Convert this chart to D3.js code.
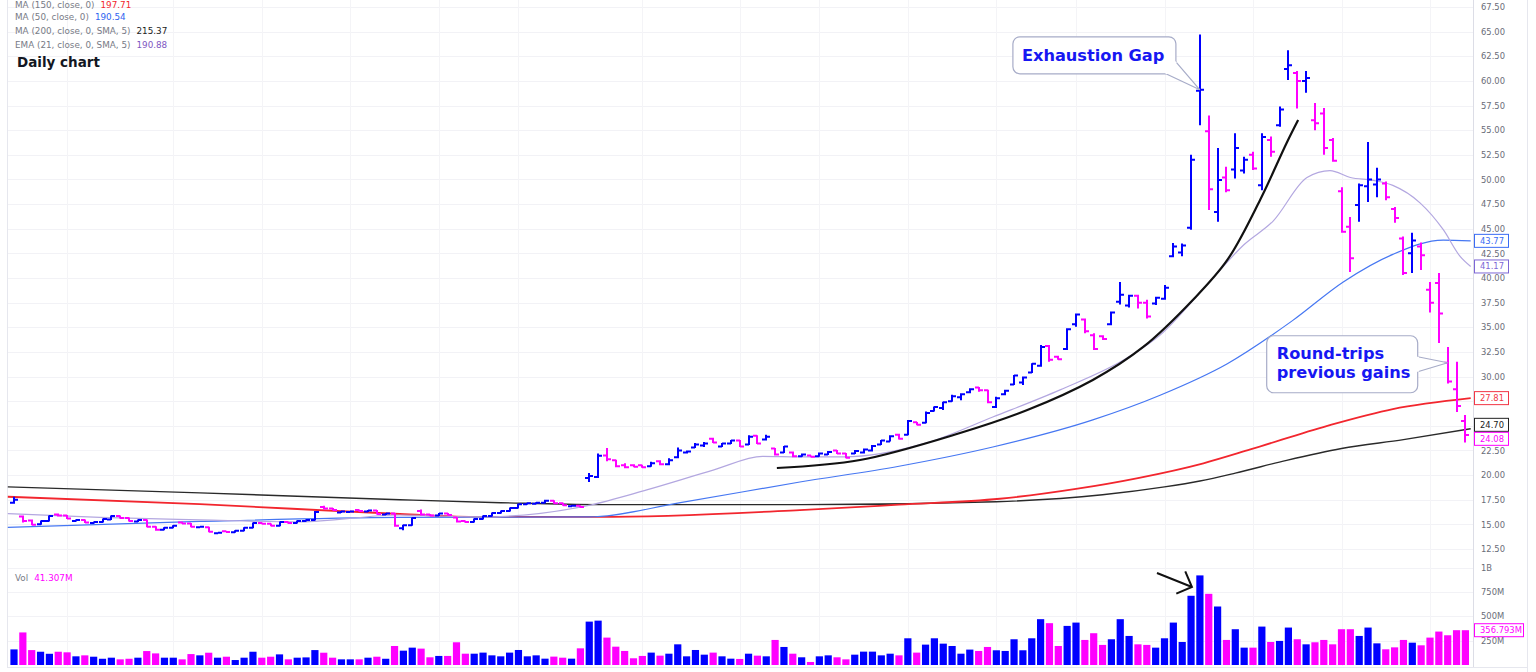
<!DOCTYPE html>
<html>
<head>
<meta charset="utf-8">
<script src="https://cdn.jsdelivr.net/npm/d3@7"></script>
<style>
  html, body { margin: 0; padding: 0; background: #fff; }
  svg { display: block; font-family: "DejaVu Sans", Verdana, sans-serif; }
</style>
</head>
<body>
<svg id="chart" width="1536" height="672"></svg>
<script>
// ---- daily OHLC, one entry per session ----
const opens = [
  17.2,15.8,15.4,15.0,15.35,16.0,15.9,15.35,15.45,15.15,15.25,15.5,15.85,15.65,15.3,15.45,14.75,14.45,14.65,15.2,
  15.1,14.7,14.7,14.1,14.3,14.2,14.35,14.65,15.15,15.05,14.85,15.25,15.15,15.35,15.45,16.75,16.6,16.2,16.25,16.45,
  16.3,16.4,16.0,16.1,14.6,14.9,16.35,16.0,15.9,16.1,15.7,15.35,15.25,15.55,15.85,16.15,16.35,16.65,17.05,17.1,
  17.2,17.4,17.15,16.85,16.9,19.7,19.8,22.0,21.5,21.0,21.0,21.0,20.9,21.4,21.1,21.8,22.3,22.8,23.0,23.7,
  22.9,23.2,23.5,23.1,24.0,23.6,22.7,22.3,22.3,21.9,22.0,21.9,22.1,22.5,22.2,22.2,22.3,22.5,23.1,23.4,
  24.1,24.1,25.35,25.3,26.5,26.8,27.5,27.9,28.4,28.9,28.6,26.9,28.2,29.2,29.4,30.4,31.1,33.1,32.0,32.8,
  35.3,35.8,34.2,34.1,35.3,37.6,37.2,38.2,37.5,37.4,37.9,42.2,42.6,45.1,59.0,54.9,46.7,50.2,51.0,50.9,
  52.5,49.4,54.0,55.5,61.2,60.8,60.0,56.0,56.7,54.0,48.8,45.2,47.4,49.3,49.5,49.6,47.0,44.0,42.5,43.2,
  38.8,39.5,31.4,28.7,25.5
];
const highs = [
  17.8,15.9,15.5,15.4,15.9,16.1,15.95,15.5,15.5,15.3,15.6,15.9,15.9,15.7,15.5,15.5,14.8,14.7,14.9,15.3,
  15.15,14.8,14.75,14.2,14.35,14.4,14.7,15.2,15.2,15.1,15.3,15.3,15.4,15.5,16.35,16.9,16.65,16.35,16.35,16.5,
  16.45,16.45,16.15,16.15,14.95,15.7,16.5,16.05,16.15,16.15,15.75,15.4,15.6,15.9,16.2,16.4,16.7,17.1,17.2,17.25,
  17.5,17.45,17.2,17.0,16.95,20.2,22.2,22.75,21.55,21.2,21.1,21.05,21.35,21.5,21.7,22.8,22.5,23.25,23.35,23.8,
  23.25,23.55,23.55,24.05,24.05,24.1,22.75,22.95,22.4,22.2,22.0,22.3,22.45,22.55,22.25,22.55,22.7,23.05,23.55,24.05,
  24.2,25.6,25.4,26.45,26.95,27.45,28.15,28.3,28.8,28.95,28.65,27.95,28.65,30.15,30.0,31.35,33.2,33.2,32.1,34.9,
  36.4,35.9,34.4,34.2,36.6,39.6,38.3,38.3,37.8,38.1,39.3,43.55,43.5,52.5,64.7,56.5,53.2,51.3,54.7,52.3,
  52.8,54.7,54.35,57.4,63.1,61.0,61.0,57.75,57.25,54.2,49.2,46.2,49.6,53.8,51.2,49.8,47.2,44.2,44.6,43.6,
  39.6,40.5,33.0,31.5,26.1
];
const lows = [
  17.1,15.2,14.9,14.95,15.3,15.8,15.55,15.3,15.15,15.1,15.2,15.45,15.6,15.3,15.25,14.7,14.35,14.4,14.6,15.05,
  14.7,14.65,14.2,14.05,14.2,14.15,14.3,14.6,15.0,14.8,14.8,15.1,15.1,15.3,15.4,16.5,16.4,16.15,16.2,16.3,
  16.25,16.0,15.95,14.75,14.4,14.85,15.9,15.85,15.85,15.9,15.2,15.2,15.2,15.5,15.8,16.1,16.3,16.6,17.0,17.05,
  17.15,17.1,16.9,16.8,16.7,19.3,19.7,21.4,20.8,20.7,20.8,20.75,20.85,21.0,21.0,21.7,22.2,22.75,22.85,23.25,
  22.85,23.15,22.85,23.05,23.15,23.5,22.0,22.25,21.8,21.85,21.8,21.85,22.05,22.15,21.7,22.15,22.2,22.4,23.05,23.4,
  23.6,24.05,25.05,25.25,26.45,26.6,27.45,27.6,28.3,28.45,27.3,26.8,28.1,29.15,29.15,30.35,31.0,31.5,31.7,32.7,
  35.05,34.4,32.7,33.7,35.2,37.3,37.0,36.9,35.9,37.25,37.8,42.1,42.2,44.9,55.5,46.9,45.7,48.7,50.1,50.6,
  50.95,48.9,52.3,55.35,60.1,57.2,58.8,55.0,52.5,51.8,44.6,40.6,45.7,47.7,48.2,47.9,45.6,40.3,40.5,40.8,
  36.5,33.4,29.3,26.4,23.3
];
const closes = [
  17.5,15.35,14.95,15.35,15.85,15.9,15.6,15.45,15.2,15.25,15.55,15.85,15.65,15.35,15.45,14.75,14.45,14.65,14.85,15.1,
  14.75,14.75,14.25,14.15,14.22,14.35,14.65,15.15,15.05,14.85,15.25,15.15,15.35,15.45,16.25,16.6,16.45,16.3,16.3,16.35,
  16.4,16.05,16.1,14.85,14.9,15.65,16.0,15.9,16.1,15.95,15.3,15.25,15.55,15.85,16.15,16.35,16.65,17.05,17.15,17.2,
  17.4,17.15,16.95,16.9,16.75,19.9,21.95,21.6,20.9,20.8,20.85,20.8,21.2,21.1,21.5,22.5,22.4,23.1,23.2,23.3,
  23.2,23.5,22.9,23.9,23.2,23.9,22.1,22.9,21.9,22.1,21.85,22.2,22.35,22.2,21.75,22.45,22.6,22.95,23.5,23.95,
  23.7,25.5,25.1,26.3,26.9,27.4,28.0,28.2,28.7,28.6,27.4,27.8,28.55,30.1,29.9,31.3,33.0,31.7,31.75,34.8,
  36.3,34.6,32.8,33.8,36.5,38.3,38.2,37.5,36.1,38.0,39.0,43.2,43.3,52.0,59.1,49.0,49.95,48.9,53.2,52.0,
  51.1,54.3,52.8,57.1,61.6,60.0,60.3,55.7,53.2,51.9,44.7,42.0,49.4,50.0,50.0,48.2,46.1,40.5,43.8,42.3,
  37.5,36.4,29.5,27.0,24.08
];
// volume, millions
const volumes = [
  160,334,153,136,115,136,130,89,99,85,64,75,58,64,75,143,119,75,75,58,
  112,99,126,75,85,51,75,136,75,85,109,58,75,78,153,126,75,58,58,58,
  75,85,64,195,147,178,168,79,93,93,233,116,116,127,99,89,127,154,89,99,
  65,86,75,65,171,445,455,281,188,144,69,93,127,96,116,212,89,154,106,127,
  89,65,62,116,96,89,257,185,116,79,31,89,99,79,58,106,137,137,99,116,
  99,274,127,209,274,219,195,116,158,144,185,151,144,264,151,274,470,429,195,401,
  435,257,326,206,264,470,298,212,206,178,274,435,236,710,919,730,600,257,367,178,
  178,394,236,247,384,264,212,233,257,212,367,367,298,384,222,161,181,257,229,202,
  281,343,305,357,356.793
];

// ---- moving averages, points (bar index, price) ----
const ma200Idx = [-0.7, 21, 43.6, 55, 66, 89, 111, 123, 130, 134, 138, 143.8, 150, 157, 164.6];
const ma200Val = [18.8, 18.2, 17.5, 17.2, 17.0, 17.0, 17.3, 18.0, 18.8, 19.4, 20.2, 21.5, 22.7, 23.6, 24.70];
const ma150Idx = [-0.7, 21, 43.6, 52.6, 66, 88.8, 100, 111.4, 120, 127, 134.4, 139.7, 148.4, 155.8, 164.6];
const ma150Val = [17.8, 17.05, 16.05, 15.75, 15.75, 16.45, 17.0, 17.6, 18.6, 19.7, 21.2, 22.6, 25.0, 26.7, 27.81];
const ma50Idx = [-0.7, 21, 43.6, 65, 75.3, 88.8, 100, 110.6, 121.9, 129.5, 137.1, 144.5, 150.2, 155.8, 161.5, 164.6];
const ma50Val = [14.7, 15.3, 15.7, 15.75, 17.2, 19.3, 20.9, 22.85, 25.6, 28.1, 31.3, 35.7, 39.6, 42.4, 43.85, 43.77];
const ema21Idx = [-0.7, 9.7, 21, 32.3, 43.6, 52.7, 64.8, 71.5, 79, 84.6, 88.8, 93.7, 103.2, 110.6, 118.2, 125.8, 129.5,
  134.4, 139, 142.3, 146.1, 148.7, 151, 153.6, 155.8, 158.9, 161.5, 163.4, 164.6];
const ema21Val = [16.1, 15.7, 15.45, 15.25, 15.95, 15.75, 16.9, 18.5, 20.5, 21.9, 21.85, 21.85, 23.3, 25.9, 28.65, 31.9, 34.2,
  38.9, 43.4, 45.8, 50.2, 50.9, 50.2, 49.9, 49.4, 47.6, 44.9, 42.2, 41.17];

// hand-drawn arc under the run-up (bar index, price)
const arcIdx = [86.2, 95.6, 106.9, 114.5, 121.9, 127.6, 133.2, 137.1, 140.8, 143.8, 145.1];
const arcVal = [20.72, 21.53, 24.27, 26.6, 29.65, 33.0, 37.77, 41.83, 47.92, 53.7, 56.03];

const priceTicks = d3.range(12.5, 67.51, 2.5);
const volTicks = [250, 500, 750, 1000];
const volTickLabels = ["250M", "500M", "750M", "1B"];
const legendLabels = ["MA (150, close, 0)", "MA (50, close, 0)", "MA (200, close, 0, SMA, 5)", "EMA (21, close, 0, SMA, 5)"];
const legendValues = ["197.71", "190.54", "215.37", "190.88"];

const UP = "#0000ff", DOWN = "#ff00ff";
const RED = "#f2262e", BLUE = "#4677f2", PURPLE = "#b3a7e0", DARK = "#2a2a2a";

const svg = d3.select("#chart");
const N = closes.length;
const plotL = 7, plotR = 1473;

const x = d3.scaleLinear().domain([0, N - 1]).range([14, 1465.4]);
const y = d3.scaleLinear().domain([12.5, 67.5]).range([549, 7]);
const yv = d3.scaleLinear().domain([0, 1000]).range([665, 567.5]);

// clip
const defs = svg.append("defs");
defs.append("clipPath").attr("id", "pclip").append("rect")
  .attr("x", plotL).attr("y", 0).attr("width", plotR - plotL).attr("height", 560);

// frame + grid
const grid = svg.append("g");
grid.selectAll(".hg").data(priceTicks).join("line")
  .attr("x1", plotL).attr("x2", plotR)
  .attr("y1", d => Math.round(y(d)) + 0.5).attr("y2", d => Math.round(y(d)) + 0.5)
  .attr("stroke", "#f2f2f6");
grid.selectAll(".vg").data(volTicks).join("line")
  .attr("x1", plotL).attr("x2", plotR)
  .attr("y1", d => Math.round(yv(d)) + 0.5).attr("y2", d => Math.round(yv(d)) + 0.5)
  .attr("stroke", "#f2f2f6");
grid.selectAll(".xg").data([6, 18, 28, 38, 48, 57, 71, 82, 91, 101, 111, 120, 130, 140, 150, 160]).join("line")
  .attr("x1", d => Math.round(x(d)) + 0.5).attr("x2", d => Math.round(x(d)) + 0.5)
  .attr("y1", 0).attr("y2", 666)
  .attr("stroke", "#f4f4f7");

svg.append("line").attr("x1", plotL + 0.5).attr("x2", plotL + 0.5).attr("y1", 0).attr("y2", 667).attr("stroke", "#e6e7ee");
svg.append("line").attr("x1", plotR + 0.5).attr("x2", plotR + 0.5).attr("y1", 0).attr("y2", 667).attr("stroke", "#dcdde6");
svg.append("line").attr("x1", 1527.5).attr("x2", 1527.5).attr("y1", 0).attr("y2", 672).attr("stroke", "#e6e7ee");
svg.append("line").attr("x1", plotL).attr("x2", 1528).attr("y1", 667.5).attr("y2", 667.5).attr("stroke", "#e6e7ee");

// moving averages
const pane = svg.append("g").attr("clip-path", "url(#pclip)");
const line = d3.line().x(d => x(d[0])).y(d => y(d[1])).curve(d3.curveMonotoneX);
const maDefs = [
  { idx: ma200Idx, val: ma200Val, color: DARK, w: 1.4 },
  { idx: ma150Idx, val: ma150Val, color: RED, w: 1.8 },
  { idx: ma50Idx, val: ma50Val, color: BLUE, w: 1.2 },
  { idx: ema21Idx, val: ema21Val, color: PURPLE, w: 1.2 }
];
maDefs.forEach(m => {
  pane.append("path")
    .datum(m.idx.map((d, k) => [d, m.val[k]]))
    .attr("fill", "none").attr("stroke", m.color).attr("stroke-width", m.w)
    .attr("d", line);
});

// OHLC bars
pane.selectAll(".bar").data(d3.range(N)).join("path")
  .attr("class", "bar")
  .attr("fill", "none")
  .attr("stroke", i => closes[i] >= opens[i] ? UP : DOWN)
  .attr("stroke-width", 2)
  .attr("d", i => {
    const cx = Math.round(x(i));
    return `M${cx},${y(highs[i])}V${y(lows[i])}` +
      `M${cx - 4},${y(opens[i])}H${cx}` +
      `M${cx},${y(closes[i])}H${cx + 4}`;
  });

// hand-drawn arc
pane.append("path")
  .datum(arcIdx.map((d, k) => [d, arcVal[k]]))
  .attr("fill", "none").attr("stroke", "#111").attr("stroke-width", 2.2)
  .attr("d", d3.line().x(d => x(d[0])).y(d => y(d[1])).curve(d3.curveCatmullRom));

// volume bars
svg.append("g").selectAll("rect").data(d3.range(N)).join("rect")
  .attr("x", i => x(i) - 3.6)
  .attr("width", 7.2)
  .attr("y", i => yv(volumes[i]))
  .attr("height", i => yv(0) - yv(volumes[i]))
  .attr("fill", i => closes[i] >= opens[i] ? UP : DOWN);

// volume arrow
{
  const a0 = [x(129.15), yv(944)], a1 = [x(133.1), yv(800)];
  const ang = Math.atan2(a1[1] - a0[1], a1[0] - a0[0]);
  const L = 17;
  const h1 = [a1[0] - L * Math.cos(ang - Math.PI / 4), a1[1] - L * Math.sin(ang - Math.PI / 4)];
  const h2 = [a1[0] - L * Math.cos(ang + Math.PI / 4), a1[1] - L * Math.sin(ang + Math.PI / 4)];
  svg.append("path")
    .attr("d", `M${a0}L${a1}M${h1}L${a1}L${h2}`)
    .attr("fill", "none").attr("stroke", "#111").attr("stroke-width", 2)
    .attr("stroke-linejoin", "miter");
}

// price axis (right)
const boxes = [
  { v: 43.77, color: "#3a6cf4" },
  { v: 41.17, color: "#7d66d6" },
  { v: 27.81, color: "#f23645" },
  { v: 24.70, color: "#222" },
  { v: 24.08, color: "#ff00ff" }
].map(b => ({ ...b, yy: y(b.v) }));
boxes.sort((a, b) => a.yy - b.yy);
for (let k = 1; k < boxes.length; k++) {
  const gap = boxes[k].yy - boxes[k - 1].yy;
  if (gap < 14) {
    const mid = (boxes[k].yy + boxes[k - 1].yy) / 2;
    boxes[k - 1].yy = mid - 7;
    boxes[k].yy = mid + 7;
  }
}
const visibleTicks = priceTicks.filter(t => boxes.every(b => Math.abs(y(t) - b.yy) > 9));

const axisG = svg.append("g").attr("transform", `translate(${plotR},0)`)
  .call(d3.axisRight(y).tickValues(visibleTicks).tickSize(0).tickPadding(8).tickFormat(d3.format(".2f")));
axisG.select(".domain").remove();
axisG.selectAll("text").attr("fill", "#6a6d78").style("font-size", "8.4px").style("font-family", "DejaVu Sans, sans-serif");

const vAxis = svg.append("g").attr("transform", `translate(${plotR},0)`)
  .call(d3.axisRight(yv).tickValues(volTicks).tickSize(0).tickPadding(8)
    .tickFormat((d, k) => volTickLabels[k]));
vAxis.select(".domain").remove();
vAxis.selectAll("text").attr("fill", "#6a6d78").style("font-size", "8.4px").style("font-family", "DejaVu Sans, sans-serif");

const boxG = svg.append("g");
boxes.forEach(b => {
  boxG.append("rect").attr("x", plotR + 1.5).attr("y", b.yy - 6.5).attr("width", 34).attr("height", 13)
    .attr("fill", "#fff").attr("stroke", b.color).attr("stroke-width", 1);
  boxG.append("text").attr("x", plotR + 7).attr("y", b.yy).attr("dy", "0.35em")
    .attr("fill", b.color).style("font-size", "8.4px").text(b.v.toFixed(2));
});
{
  const lv = volumes[N - 1];
  boxG.append("rect").attr("x", plotR + 1.5).attr("y", yv(lv) - 6.5).attr("width", 49).attr("height", 13)
    .attr("fill", "#fff").attr("stroke", DOWN).attr("stroke-width", 1);
  boxG.append("text").attr("x", plotR + 7).attr("y", yv(lv)).attr("dy", "0.35em")
    .attr("fill", DOWN).style("font-size", "8.4px").text(d3.format(".3f")(lv) + "M");
}

// callouts
function callout(tip, bx, by, bw, bh, p1, p2, lines, tx, ty, lh) {
  const g = svg.append("g");
  g.append("rect").attr("x", bx).attr("y", by).attr("width", bw).attr("height", bh)
    .attr("rx", 7).attr("fill", "#fff").attr("stroke", "#a7acc8").attr("stroke-width", 1.2);
  g.append("path").attr("d", `M${p1}L${tip}L${p2}`)
    .attr("fill", "#fff").attr("stroke", "#a7acc8").attr("stroke-width", 1.2);
  g.append("path").attr("d", `M${p1}L${p2}`).attr("stroke", "#fff").attr("stroke-width", 2.5);
  lines.forEach((t, k) => {
    g.append("text").attr("x", tx).attr("y", ty + k * lh)
      .attr("fill", "#1717f2").style("font-size", "16.2px").style("font-weight", "bold").text(t);
  });
}
{
  const tip = [x(134), y(closes[134])];
  const bx = tip[0] - 187, by = tip[1] - 53, bw = 163, bh = 37;
  callout(tip, bx, by, bw, bh, [bx + bw - 10, by + bh], [bx + bw, by + bh - 12],
    ["Exhaustion Gap"], bx + 9, by + 24.5, 0);
}
{
  const tip = [x(162), y(opens[162])];
  const bx = tip[0] - 181, by = tip[1] - 27, bw = 151, bh = 57;
  callout(tip, bx, by, bw, bh, [bx + bw, by + 21], [bx + bw, by + 36],
    ["Round-trips", "previous gains"], bx + 10, by + 23.5, 18.5);
}

// legend
const legend = svg.append("g").style("font-size", "8.8px");
const legendColors = [RED, "#2f64f0", "#222", "#7e57c2"];
const legendY = [8, 20, 34, 48];
legendLabels.forEach((t, k) => {
  const tx = legend.append("text").attr("x", 15).attr("y", legendY[k]);
  tx.append("tspan").attr("fill", "#787b86").text(t);
  tx.append("tspan").attr("dx", 6).attr("fill", legendColors[k]).text(legendValues[k]);
});
svg.append("text").attr("x", 17).attr("y", 67).attr("fill", "#131722")
  .style("font-size", "13.5px").style("font-weight", "bold").text("Daily chart");

const vl = svg.append("text").attr("x", 15).attr("y", 581).style("font-size", "8.8px");
vl.append("tspan").attr("fill", "#787b86").text("Vol");
vl.append("tspan").attr("dx", 6).attr("fill", DOWN).text("41.307M");
</script>
</body>
</html>
